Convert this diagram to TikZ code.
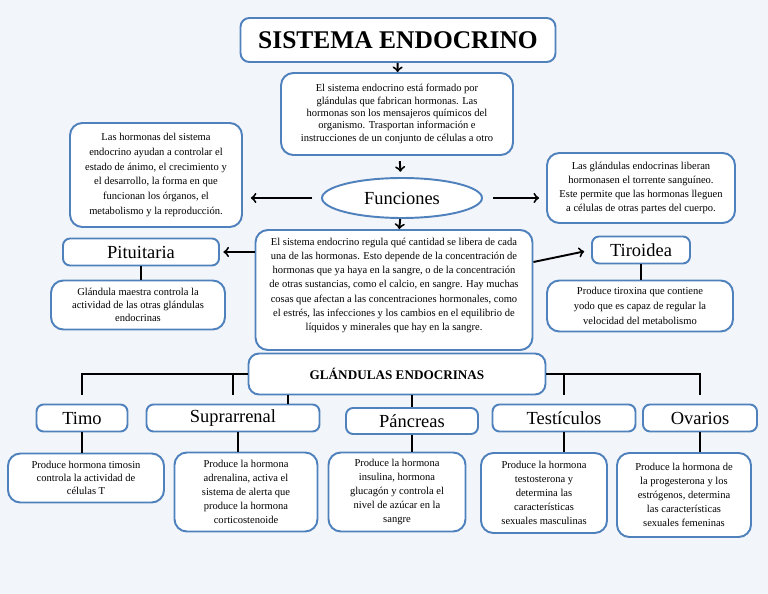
\documentclass[tikz,border=0pt]{standalone}
\usepackage{fontspec}
\setmainfont{Liberation Serif}
\usepackage{tikz}
\usetikzlibrary{shapes.geometric}
\definecolor{fondo}{RGB}{242,245,250}
\definecolor{borde}{RGB}{79,129,189}

\begin{document}
\begin{tikzpicture}[x=0.02cm, y=-0.02cm,
  caja/.style={draw=borde, line width=1.1pt, fill=white, rounded corners=7pt, align=center, inner sep=0pt, font=\fontsize{6}{8}\selectfont},
  etiqueta/.style={caja, rounded corners=4pt, font=\fontsize{10.5}{12}\selectfont, minimum height=0.54cm},
  linea/.style={line width=1.1pt, black},
  flecha/.style={linea, ->}]
\fill [fondo] (0,0) rectangle (768,594);
\useasboundingbox (0,0) rectangle (768,594);

\node [caja, rounded corners=5pt, minimum width=6.3cm, minimum height=0.88cm, font=\fontsize{14.5}{16}\selectfont\bfseries] (titulo) at (398,40) {SISTEMA ENDOCRINO};
\node [caja, minimum width=4.64cm, minimum height=1.64cm, font=\fontsize{6}{7}\selectfont] (intro) at (397,114) {El sistema endocrino está formado por\\ glándulas que fabrican hormonas. Las\\ hormonas son los mensajeros químicos del\\ organismo. Trasportan información e\\ instrucciones de un conjunto de células a otro};
\node [draw=borde, line width=1.1pt, fill=white, ellipse, minimum width=3.2cm, minimum height=0.8cm, inner sep=0pt, font=\fontsize{10.5}{12}\selectfont] (funciones) at (402,198) {Funciones};
\node [caja, minimum width=3.44cm, minimum height=2.08cm, font=\fontsize{6}{8.5}\selectfont] (izquierda) at (156,175) {Las hormonas del sistema\\ endocrino ayudan a controlar el\\ estado de ánimo, el crecimiento y\\ el desarrollo, la forma en que\\ funcionan los órganos, el\\ metabolismo y la reproducción.};
\node [caja, minimum width=3.76cm, minimum height=1.4cm] (derecha) at (641,188) {Las glándulas endocrinas liberan\\ hormonasen el torrente sanguíneo.\\ Este permite que las hormonas  lleguen\\ a células de otras partes del  cuerpo.};
\node [caja, minimum width=5.54cm, minimum height=2.4cm] (centro) at (394,290) {El sistema endocrino regula qué cantidad se libera de  cada\\ una de las hormonas. Esto depende de la  concentración de\\ hormonas que ya haya en la sangre,  o de la concentración\\ de otras sustancias, como el  calcio, en sangre. Hay muchas\\ cosas que afectan a  las concentraciones hormonales, como\\ el estrés, las  infecciones y los cambios en el equilibrio de\\ líquidos y  minerales que hay en la sangre.\\[-1.5pt]};

\node [etiqueta, minimum width=3.12cm] (pituitaria) at (141,252) {Pituitaria};
\node [caja, minimum width=3.48cm, minimum height=0.98cm, font=\fontsize{6}{7.6}\selectfont] (pitdesc) at (138,305) {Glándula maestra controla la\\ actividad de las otras glándulas\\ endocrinas};
\node [etiqueta, minimum width=1.96cm] (tiroidea) at (641,250) {Tiroidea};
\node [caja, minimum width=3.72cm, minimum height=1.02cm, font=\fontsize{6}{8.5}\selectfont] (tirdesc) at (640,306) {Produce tiroxina que contiene\\ yodo  que es capaz de regular la\\ velocidad  del metabolismo};

\node [caja, rounded corners=6pt, minimum width=5.94cm, minimum height=0.82cm, font=\fontsize{7.5}{9}\selectfont\bfseries] (glandulas) at (397,374) {GLÁNDULAS ENDOCRINAS};

\node [etiqueta, minimum width=1.82cm] (timo) at (82,418) {Timo};
\node [etiqueta, minimum width=3.46cm] (supra) at (233,418) {Suprarrenal};
\node [etiqueta, minimum width=2.64cm, minimum height=0.52cm] (pancreas) at (412,421) {Páncreas};
\node [etiqueta, minimum width=2.86cm] (testiculos) at (564,418) {Testículos};
\node [etiqueta, minimum width=2.28cm] (ovarios) at (700,418) {Ovarios};

\node [caja, minimum width=3.12cm, minimum height=0.98cm, font=\fontsize{6}{7.6}\selectfont] (timodesc) at (86,478) {Produce hormona timosin\\ controla la actividad de\\ células T};
\node [caja, minimum width=2.86cm, minimum height=1.58cm] (supradesc) at (246,492) {Produce la hormona\\ adrenalina, activa el\\ sistema de alerta que\\ produce la hormona\\ corticostenoide};
\node [caja, minimum width=2.74cm, minimum height=1.58cm] (pancdesc) at (397,492) {Produce la hormona\\ insulina, hormona\\ glucagón y controla el\\ nivel de azúcar en la\\ sangre};
\node [caja, minimum width=2.52cm, minimum height=1.6cm] (testdesc) at (544,493) {Produce la hormona\\ testosterona y\\ determina las\\ características\\ sexuales masculinas};
\node [caja, minimum width=2.68cm, minimum height=1.68cm] (ovardesc) at (684,495) {Produce la hormona de\\ la  progesterona y los\\ estrógenos, determina\\ las  características\\ sexuales  femeninas};

\draw [flecha] (titulo) -- (intro);
\draw [flecha, shorten <=3pt, shorten >=3pt] (intro) -- (funciones);
\draw [flecha, shorten <=5pt, shorten >=4.5pt] (funciones) -- (izquierda.east |- funciones);
\draw [flecha, shorten <=6pt, shorten >=4pt] (funciones) -- (derecha.west |- funciones);
\draw [flecha] (funciones) -- (centro);
\draw [flecha, shorten >=2pt] (pituitaria.east -| centro.west) -- (pituitaria.east);
\draw [flecha, shorten >=4pt] ([yshift=0.56cm]centro.east) -- (tiroidea.west);
\draw [linea] (pituitaria.south) -- (pituitaria.south |- pitdesc.north);
\draw [linea] (tiroidea.south) -- (tiroidea.south |- tirdesc.north);

\draw [linea] ([yshift=0.18cm]timo.north) |- (glandulas.west);
\draw [linea] ([yshift=0.18cm]supra.north) -- (supra.north |- glandulas.west);
\draw [linea] ([xshift=0.8cm]glandulas.south west) -- ([xshift=0.8cm]glandulas.south west |- supra.north);
\draw [linea] (pancreas.north |- glandulas.south) -- (pancreas.north);
\draw [linea] (glandulas.east) -| ([yshift=0.18cm]ovarios.north);
\draw [linea] (testiculos.north |- glandulas.east) -- ([yshift=0.18cm]testiculos.north);

\draw [linea] (timo.south) -- (timo.south |- timodesc.north);
\draw [linea] ([xshift=0.1cm]supra.south) -- ([xshift=0.1cm]supra.south |- supradesc.north);
\draw [linea] (pancreas.south) -- (pancreas.south |- pancdesc.north);
\draw [linea] (testiculos.south) -- (testiculos.south |- testdesc.north);
\draw [linea] (ovarios.south) -- (ovarios.south |- ovardesc.north);
\end{tikzpicture}
\end{document}
